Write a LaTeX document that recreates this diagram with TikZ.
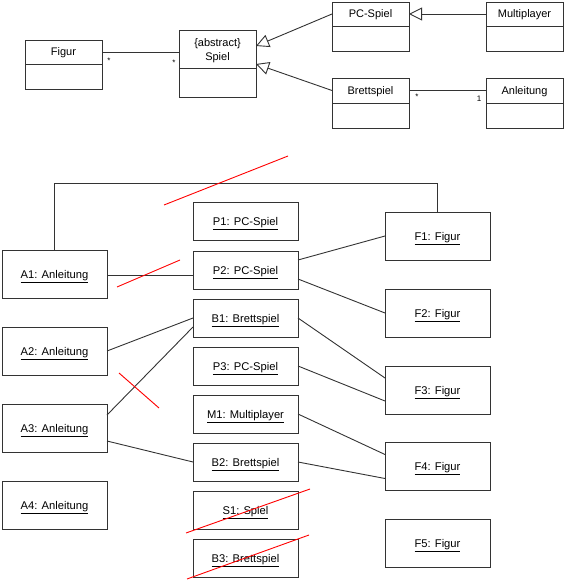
\documentclass[tikz,border=0pt]{standalone}
\usepackage{fontspec}
\setmainfont{Liberation Sans}
\usetikzlibrary{arrows.meta}
\begin{document}
\begin{tikzpicture}[x=1pt,y=-1pt,
  line width=0.9pt,
  ln/.style={draw=black!80},
  clsbase/.style={draw=black!80, fill=white, minimum width=77pt, inner sep=0pt, outer sep=0pt, anchor=north, font=\fontsize{11}{14}\selectfont, align=center},
  clshead/.style={clsbase, text height=8pt, text depth=0pt},
  clsbody/.style={draw=black!80, fill=white, minimum width=77pt, inner sep=0pt, outer sep=0pt, anchor=north},
  objbox/.style={draw=black!80, fill=white, minimum width=105pt, inner sep=0pt, outer sep=0pt, font=\fontsize{11.2}{13}\selectfont, text height=8pt, text depth=0pt},
  tallobj/.style={objbox, minimum height=48pt},
  midobj/.style={objbox, minimum height=38pt},
  mult/.style={font=\fontsize{8}{9}\selectfont, inner sep=0pt},
  gen/.style={ln, -{Triangle[open, length=13pt, width=13pt, fill=white]}},
  strike/.style={draw=red, line width=0.9pt}
]
\useasboundingbox (0,0) rectangle (564,580);

% ---------- class diagram ----------
\node[clshead, minimum height=24pt] (figH) at (63.5,40) {Figur};
\node[clsbody, minimum height=25pt] (figB) at (63.5,64) {};
\node[clsbase, minimum height=38pt] (spiH) at (217.5,30) {\rule{0pt}{12pt}\{abstract\}\\Spiel};
\node[clsbody, minimum height=29pt] (spiB) at (217.5,68) {};
\node[clshead, minimum height=24pt] (pcH) at (370.5,2) {PC-Spiel};
\node[clsbody, minimum height=25pt] (pcB) at (370.5,26) {};
\node[clshead, minimum height=24pt] (mpH) at (524.5,2) {Multiplayer};
\node[clsbody, minimum height=25pt] (mpB) at (524.5,26) {};
\node[clshead, minimum height=25pt] (brH) at (370.5,78) {Brettspiel};
\node[clsbody, minimum height=25pt] (brB) at (370.5,103) {};
\node[clshead, minimum height=25pt] (anH) at (524.5,78) {Anleitung};
\node[clsbody, minimum height=25pt] (anB) at (524.5,103) {};

\draw[ln] ([yshift=-0.5pt]figH.east) -- ([yshift=-0.5pt]figH.east -| spiH.west);
\node[mult] (m1) at (109,61) {*};
\node[mult] (m2) at (174,63) {*};
\draw[ln] (brH.east) -- (brH.east -| anH.west);
\node[mult] (m3) at (417,97) {*};
\node[mult] (m4) at (479,99) {1};

\draw[gen] (pcH.west) -- ([yshift=3pt]spiH.east);
\draw[gen] (brH.west) -- ([yshift=-15pt]spiH.east);
\draw[gen] (mpH.west) -- (pcH.east);

% ---------- object diagram ----------
\node[tallobj] (A1) at (54.5,274) {\underline{A1: Anleitung}};
\node[tallobj] (A2) at (54.5,351) {\underline{A2: Anleitung}};
\node[tallobj] (A3) at (54.5,428) {\underline{A3: Anleitung}};
\node[tallobj] (A4) at (54.5,505) {\underline{A4: Anleitung}};

\node[midobj] (P1) at (245.5,221.5) {\underline{P1: PC-Spiel}};
\node[midobj] (P2) at (245.5,270) {\underline{P2: PC-Spiel}};
\node[midobj] (B1) at (245.5,318) {\underline{B1: Brettspiel}};
\node[midobj] (P3) at (245.5,366) {\underline{P3: PC-Spiel}};
\node[midobj] (M1) at (245.5,414) {\underline{M1: Multiplayer}};
\node[midobj] (B2) at (245.5,462) {\underline{B2: Brettspiel}};
\node[midobj] (S1) at (245.5,510) {\underline{S1: Spiel}};
\node[midobj] (B3) at (245.5,558) {\underline{B3: Brettspiel}};

\node[tallobj] (F1) at (437.5,236) {\underline{F1: Figur}};
\node[tallobj] (F2) at (437.5,313) {\underline{F2: Figur}};
\node[tallobj] (F3) at (437.5,390) {\underline{F3: Figur}};
\node[tallobj] (F4) at (437.5,466.5) {\underline{F4: Figur}};
\node[tallobj] (F5) at (437.5,543) {\underline{F5: Figur}};

\draw[ln] (A1.north) |- ([yshift=29pt]F1.north) -- (F1.north);
\draw[ln] ([yshift=-1pt]A1.east) -- ([yshift=-1pt]A1.east -| P2.west);
\draw[ln] ([yshift=10pt]P2.east) -- (F1.west);
\draw[ln] ([yshift=-9pt]P2.east) -- (F2.west);
\draw[ln] (A2.east) -- (B1.west);
\draw[ln] ([yshift=13pt]A3.east) -- ([yshift=-9pt]B1.west);
\draw[ln] ([yshift=-13pt]A3.east) -- (B2.west);
\draw[ln] (B1.east) -- ([yshift=12pt]F3.west);
\draw[ln] (P3.east) -- ([yshift=-11pt]F3.west);
\draw[ln] (M1.east) -- ([yshift=12pt]F4.west);
\draw[ln] (B2.east) -- ([yshift=-12pt]F4.west);

% ---------- red strike-outs ----------
\draw[strike] (164,205) -- (288,156);
\draw[strike] (117,287) -- (180,260);
\draw[strike] (119,373) -- (159,408);
\draw[strike] (186,533) -- (310,489);
\draw[strike] (187,579) -- (309,535);
\end{tikzpicture}
\end{document}
